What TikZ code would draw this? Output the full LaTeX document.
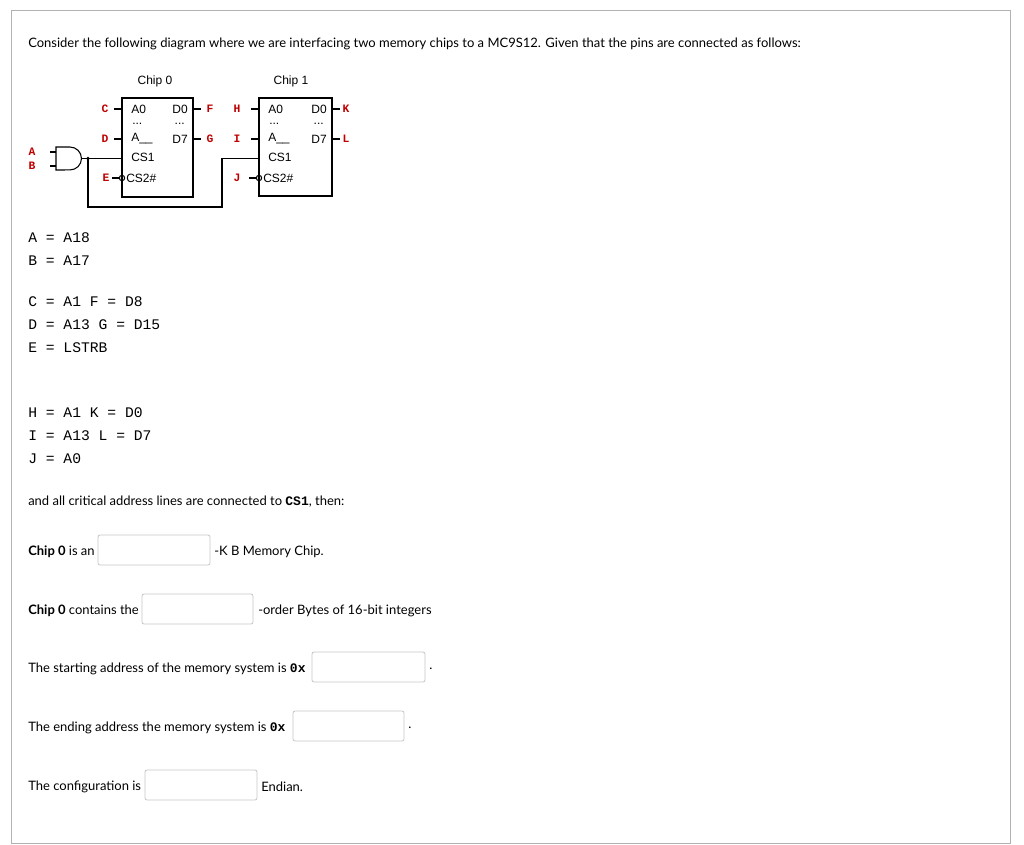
\documentclass[tikz,border=0pt]{standalone}
\usepackage{fontspec}
\setmainfont{Lato}
\newfontfamily\chipf{Liberation Sans}
\newfontfamily\monof{Liberation Mono}
\begin{document}
\begin{tikzpicture}[x=0.75pt,y=-0.75pt,
  txt/.style={anchor=west,inner sep=0pt,font=\fontsize{9.75}{11}\selectfont},
  mono/.style={anchor=west,inner sep=0pt,font=\monof\fontsize{11}{12}\selectfont},
  chiptxt/.style={inner sep=0pt,font=\chipf\fontsize{9}{10}\selectfont},
  pinlbl/.style={inner sep=0pt,text=red!75!black,font=\monof\bfseries\fontsize{8.5}{9}\selectfont},
  ansbox/.style={draw=gray!45,rounded corners=1.5pt,line width=0.6pt},
  wire/.style={line width=0.8pt}]
\useasboundingbox (0,0) rectangle (1024,844);
\draw[gray!60,line width=0.6pt] (11,843) -- (11,10) -- (1010,10) -- (1010,843) -- (11,843);
\node[txt] (t1) at (28,44) {Consider the following diagram where we are interfacing two memory chips to a MC9S12. Given that the pins are connected as follows:};
% chips
\draw[wire] (122,98) rectangle (193,197);
\draw[wire] (259,98) rectangle (332,196);
\node[chiptxt] (c0) at (155,81) {Chip 0};
\node[chiptxt] (c1) at (291,81) {Chip 1};
% chip 0 contents
\node[chiptxt,anchor=west] (a00) at (131,109) {A0};
\node[chiptxt,anchor=west] at (132,124) {...};
\node[chiptxt,anchor=west] (a0x) at (131,139) {A\_\_};
\node[chiptxt,anchor=west] (cs10) at (131,157) {CS1};
\node[chiptxt,anchor=west] (cs20) at (126,178) {CS2\#};
\node[chiptxt,anchor=east] (d00) at (188,109) {D0};
\node[chiptxt,anchor=east] at (185,124) {...};
\node[chiptxt,anchor=east] (d70) at (188,139) {D7};
% chip 1 contents
\node[chiptxt,anchor=west] (a01) at (268,109) {A0};
\node[chiptxt,anchor=west] at (269,124) {...};
\node[chiptxt,anchor=west] (a1x) at (268,139) {A\_\_};
\node[chiptxt,anchor=west] (cs11) at (268,157) {CS1};
\node[chiptxt,anchor=west] (cs21) at (263,178) {CS2\#};
\node[chiptxt,anchor=east] (d01) at (327,109) {D0};
\node[chiptxt,anchor=east] at (324,124) {...};
\node[chiptxt,anchor=east] (d71) at (327,139) {D7};
% pin stubs
\foreach \y in {109,139} {\draw[wire] (114,\y) -- (122,\y); \draw[wire] (193,\y) -- (201,\y);
  \draw[wire] (251,\y) -- (259,\y); \draw[wire] (332,\y) -- (340,\y);}
\draw[wire] (122,178) circle (2pt); \draw[wire] (112,178) -- (119.3,178);
\draw[wire] (259,178) circle (2pt); \draw[wire] (249,178) -- (256.3,178);
% labels
\node[pinlbl] (C) at (105,109) {C};
\node[pinlbl] (D) at (105,139) {D};
\node[pinlbl] (E) at (106,178) {E};
\node[pinlbl] (F) at (210,109) {F};
\node[pinlbl] (G) at (210,139) {G};
\node[pinlbl] (H) at (237,109) {H};
\node[pinlbl] (I) at (237,139) {I};
\node[pinlbl] (J) at (237,178) {J};
\node[pinlbl] (K) at (346,109) {K};
\node[pinlbl] (L) at (346,139) {L};
\node[pinlbl] (A) at (32,152) {A};
\node[pinlbl] (B) at (32,166) {B};
% AND gate
\draw[wire] (56,147) -- (70,147) arc[start angle=90,end angle=-90,radius=8.6pt] -- (56,170) -- cycle;
\draw[wire] (50,152) -- (56,152); \draw[wire] (50,166) -- (56,166);
\coordinate (dot) at (88,158.5);
\draw[wire] (81.5,158.5) -- (122,158.5);
\fill (dot) circle (1.4pt);
\draw[wire] (dot) -- (88,207) -- (222,207) -- (222,158.5) -- (259,158.5);
% mono text
\node[mono] at (28,238) {A = A18};
\node[mono] at (28,261) {B = A17};
\node[mono] at (28,302) {C = A1 F = D8};
\node[mono] at (28,325) {D = A13 G = D15};
\node[mono] at (28,348) {E = LSTRB};
\node[mono] at (28,413) {H = A1 K = D0};
\node[mono] at (28,436) {I = A13 L = D7};
\node[mono] at (28,459) {J = A0};
\node[txt] at (28,502) {and all critical address lines are connected to {\monof\bfseries CS1}, then:};
% questions
\node[txt] (q1) at (28,552) {\textbf{Chip 0} is an};
\draw[ansbox] (98,535) rectangle (210,565);
\node[txt] at (214,552) {-K B Memory Chip.};
\node[txt] (q2) at (28,611) {\textbf{Chip 0} contains the};
\draw[ansbox] (142,594) rectangle (253,624);
\node[txt] at (258,611) {-order Bytes of 16-bit integers};
\node[txt] (q3) at (28,669) {The starting address of the memory system is {\monof\bfseries 0x}};
\draw[ansbox] (312,652) rectangle (425,682);
\node[txt] at (429,669) {.};
\node[txt] (q4) at (28,728) {The ending address the memory system is {\monof\bfseries 0x}};
\draw[ansbox] (293,711) rectangle (404,741);
\node[txt] at (408,728) {.};
\node[txt] (q5) at (28,787) {The configuration is};
\draw[ansbox] (145,770) rectangle (257,800);
\node[txt] at (261,787) {Endian.};
\end{tikzpicture}
\end{document}
